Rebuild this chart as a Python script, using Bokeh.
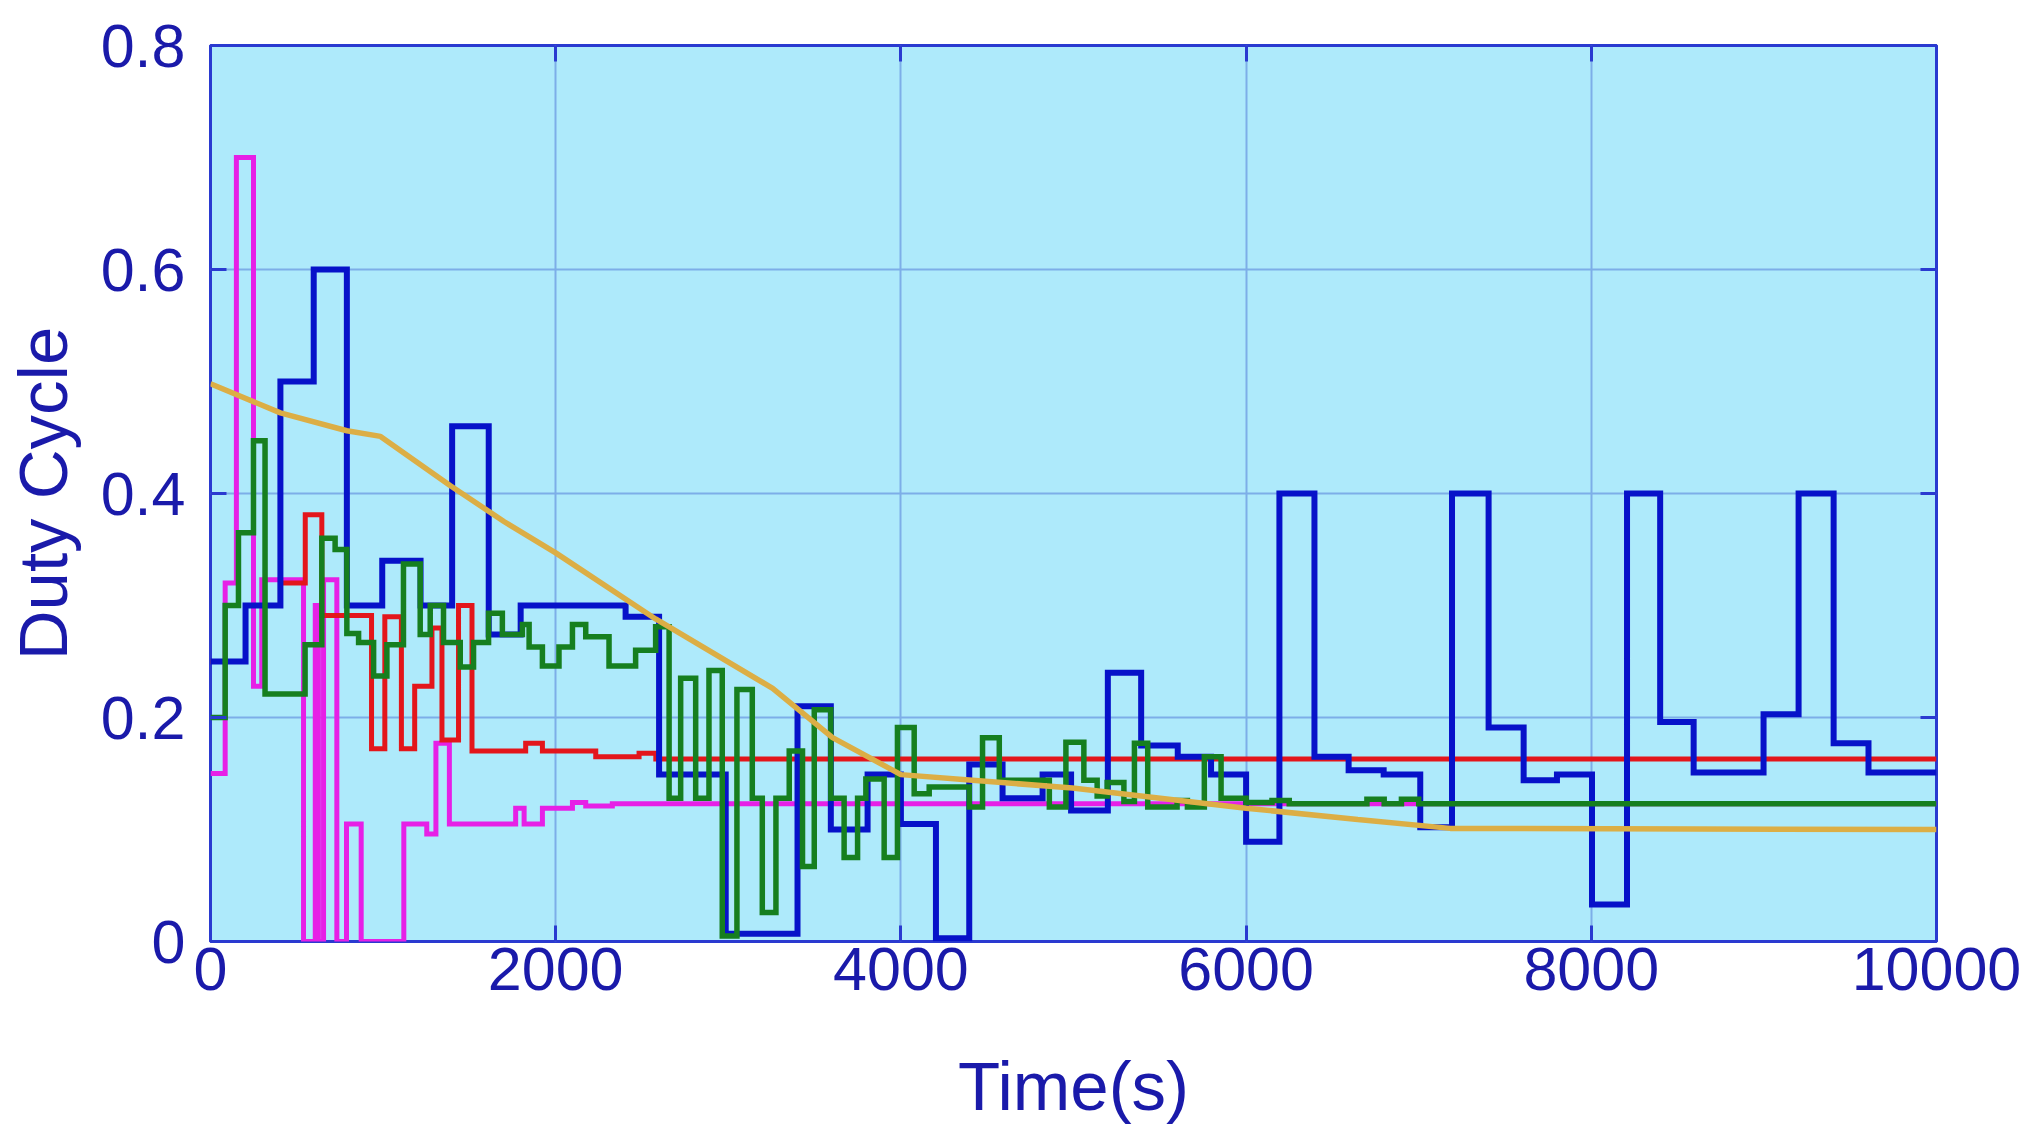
from bokeh.plotting import figure
from bokeh.models import Range1d, LinearAxis, FixedTicker, CustomJSTickFormatter
from bokeh.embed import file_html
from bokeh.resources import INLINE

# ---- data ----
blue_t = [0, 203, 405, 598, 790, 995, 1217, 1400, 1612, 1797, 2405, 2599, 2985,
          3401, 3594, 3807, 4000, 4203, 4396, 4589, 4821, 4986, 5199, 5392, 5604,
          5797, 6000, 6193, 6396, 6594, 6797, 7009, 7193, 7405, 7608, 7801, 8004,
          8207, 8399, 8593, 8998, 9201, 9404, 9606, 10000]
blue_y = [0.25, 0.30, 0.50, 0.60, 0.30, 0.34, 0.30, 0.46, 0.274, 0.30, 0.29, 0.149, 0.007,
          0.21, 0.10, 0.149, 0.105, 0.003, 0.158, 0.128, 0.149, 0.117, 0.24, 0.175, 0.165,
          0.149, 0.089, 0.40, 0.165, 0.153, 0.149, 0.102, 0.40, 0.191, 0.144, 0.149, 0.033,
          0.40, 0.196, 0.151, 0.203, 0.40, 0.177, 0.151, 0.151]

red_t = [0, 203, 405, 549, 645, 933, 1010, 1106, 1183, 1283, 1341, 1437, 1515,
         1826, 1923, 2232, 2483, 2580, 10000]
red_y = [0.25, 0.30, 0.32, 0.381, 0.291, 0.172, 0.29, 0.172, 0.228, 0.28, 0.18, 0.30, 0.17,
         0.177, 0.17, 0.165, 0.168, 0.163, 0.163]

magenta_t = [0, 85, 150, 249, 297, 539, 607, 625, 655, 732, 788, 873, 1120, 1253,
             1306, 1384, 1768, 1817, 1923, 2097, 2174, 2328, 10000]
magenta_y = [0.15, 0.32, 0.70, 0.228, 0.323, 0.0, 0.30, 0.0, 0.323, 0.0, 0.105, 0.0, 0.105, 0.096,
             0.177, 0.105, 0.119, 0.105, 0.119, 0.124, 0.121, 0.123, 0.123]

green_t = [0, 85, 162, 249, 316, 548, 645, 722, 790, 858, 945, 1022, 1118, 1215, 1273,
           1350, 1447, 1524, 1611, 1691, 1807, 1846, 1923, 2019, 2097, 2174, 2309, 2463,
           2579, 2657, 2724, 2811, 2888, 2965, 3050, 3139, 3197, 3276, 3353, 3430, 3498,
           3594, 3671, 3749, 3797, 3903, 3980, 4077, 4164, 4396, 4473, 4570, 4860, 4956,
           5060, 5137, 5195, 5292, 5353, 5430, 5600, 5660, 5758, 5855, 6000, 6150, 6250,
           6700, 6800, 6900, 7000, 10000]
green_y = [0.20, 0.30, 0.365, 0.447, 0.221, 0.265, 0.36, 0.35, 0.275, 0.267, 0.237, 0.265, 0.337, 0.274, 0.30,
           0.267, 0.245, 0.267, 0.293, 0.274, 0.283, 0.263, 0.246, 0.263, 0.283, 0.272, 0.246, 0.26,
           0.281, 0.128, 0.235, 0.128, 0.242, 0.005, 0.225, 0.128, 0.026, 0.128, 0.170, 0.067, 0.207,
           0.128, 0.075, 0.128, 0.145, 0.075, 0.191, 0.132, 0.138, 0.120, 0.182, 0.144, 0.120, 0.178,
           0.144, 0.130, 0.142, 0.125, 0.177, 0.120, 0.126, 0.120, 0.165, 0.128, 0.124, 0.126, 0.123,
           0.127, 0.123, 0.127, 0.123, 0.123]

yellow_t = [0, 405, 790, 985, 1390, 1700, 2000, 2579, 3257, 3604, 4000, 4415, 4994,
            6000, 6647, 7183, 10000]
yellow_y = [0.498, 0.472, 0.456, 0.451, 0.407, 0.375, 0.347, 0.288, 0.226, 0.182, 0.149, 0.144, 0.137,
            0.119, 0.109, 0.101, 0.100]

x_ticks = [0, 2000, 4000, 6000, 8000, 10000]
y_ticks = [0, 0.2, 0.4, 0.6, 0.8]
y_tick_labels = {0: "0", 0.2: "0.2", 0.4: "0.4", 0.6: "0.6", 0.8: "0.8"}

TXT = "#1a1aaa"
FRAME = "#2a3ad0"
FONT = "Liberation Sans"

p = figure(frame_width=1726, frame_height=896,
           x_range=Range1d(0, 10000), y_range=Range1d(0, 0.8),
           output_backend="svg", toolbar_location=None,
           min_border_left=210, min_border_right=90,
           min_border_top=45, min_border_bottom=188)

p.border_fill_color = "white"
p.outline_line_color = FRAME
p.outline_line_width = 3
p.background_fill_color = "#aeeafb"

# grids
for g in (p.xgrid, p.ygrid):
    g.grid_line_color = "#7daee8"
    g.grid_line_width = 2
p.xgrid.ticker = FixedTicker(ticks=x_ticks)
p.ygrid.ticker = FixedTicker(ticks=y_ticks)

def style_axis(ax, ticks):
    ax.ticker = FixedTicker(ticks=ticks)
    ax.axis_line_color = None
    ax.major_tick_in = 16
    ax.major_tick_out = 0
    ax.major_tick_line_color = FRAME
    ax.major_tick_line_width = 3
    ax.minor_tick_line_color = None
    ax.major_label_text_font = FONT
    ax.major_label_text_font_size = "61px"
    ax.major_label_text_color = TXT
    ax.axis_label_text_font = FONT
    ax.axis_label_text_font_size = "69px"
    ax.axis_label_text_font_style = "normal"
    ax.axis_label_text_color = TXT

xa = p.xaxis[0]
style_axis(xa, x_ticks)
xa.axis_label = "Time(s)"
xa.major_label_standoff = 6
xa.axis_label_standoff = 55

ya = p.yaxis[0]
style_axis(ya, y_ticks)
ya.axis_label = "Duty Cycle"
ya.major_label_overrides = y_tick_labels
ya.major_label_standoff = 25
ya.axis_label_standoff = 16

empty = CustomJSTickFormatter(code="return ''")
top = LinearAxis(formatter=empty)
style_axis(top, x_ticks)
top.major_label_standoff = 0
p.add_layout(top, "above")
right = LinearAxis(formatter=empty)
style_axis(right, y_ticks)
right.major_label_standoff = 0
p.add_layout(right, "right")

# series
p.step(magenta_t, magenta_y, mode="after", line_color="#e620e6", line_width=5, line_join="miter")
p.step(red_t, red_y, mode="after", line_color="#e3161b", line_width=5, line_join="miter")
p.step(blue_t, blue_y, mode="after", line_color="#0712c9", line_width=6, line_join="miter")
p.step(green_t, green_y, mode="after", line_color="#167f1f", line_width=5.5, line_join="miter")
p.line(yellow_t, yellow_y, line_color="#dcae45", line_width=5.5)

open("out.html", "w").write(file_html(p, INLINE))
